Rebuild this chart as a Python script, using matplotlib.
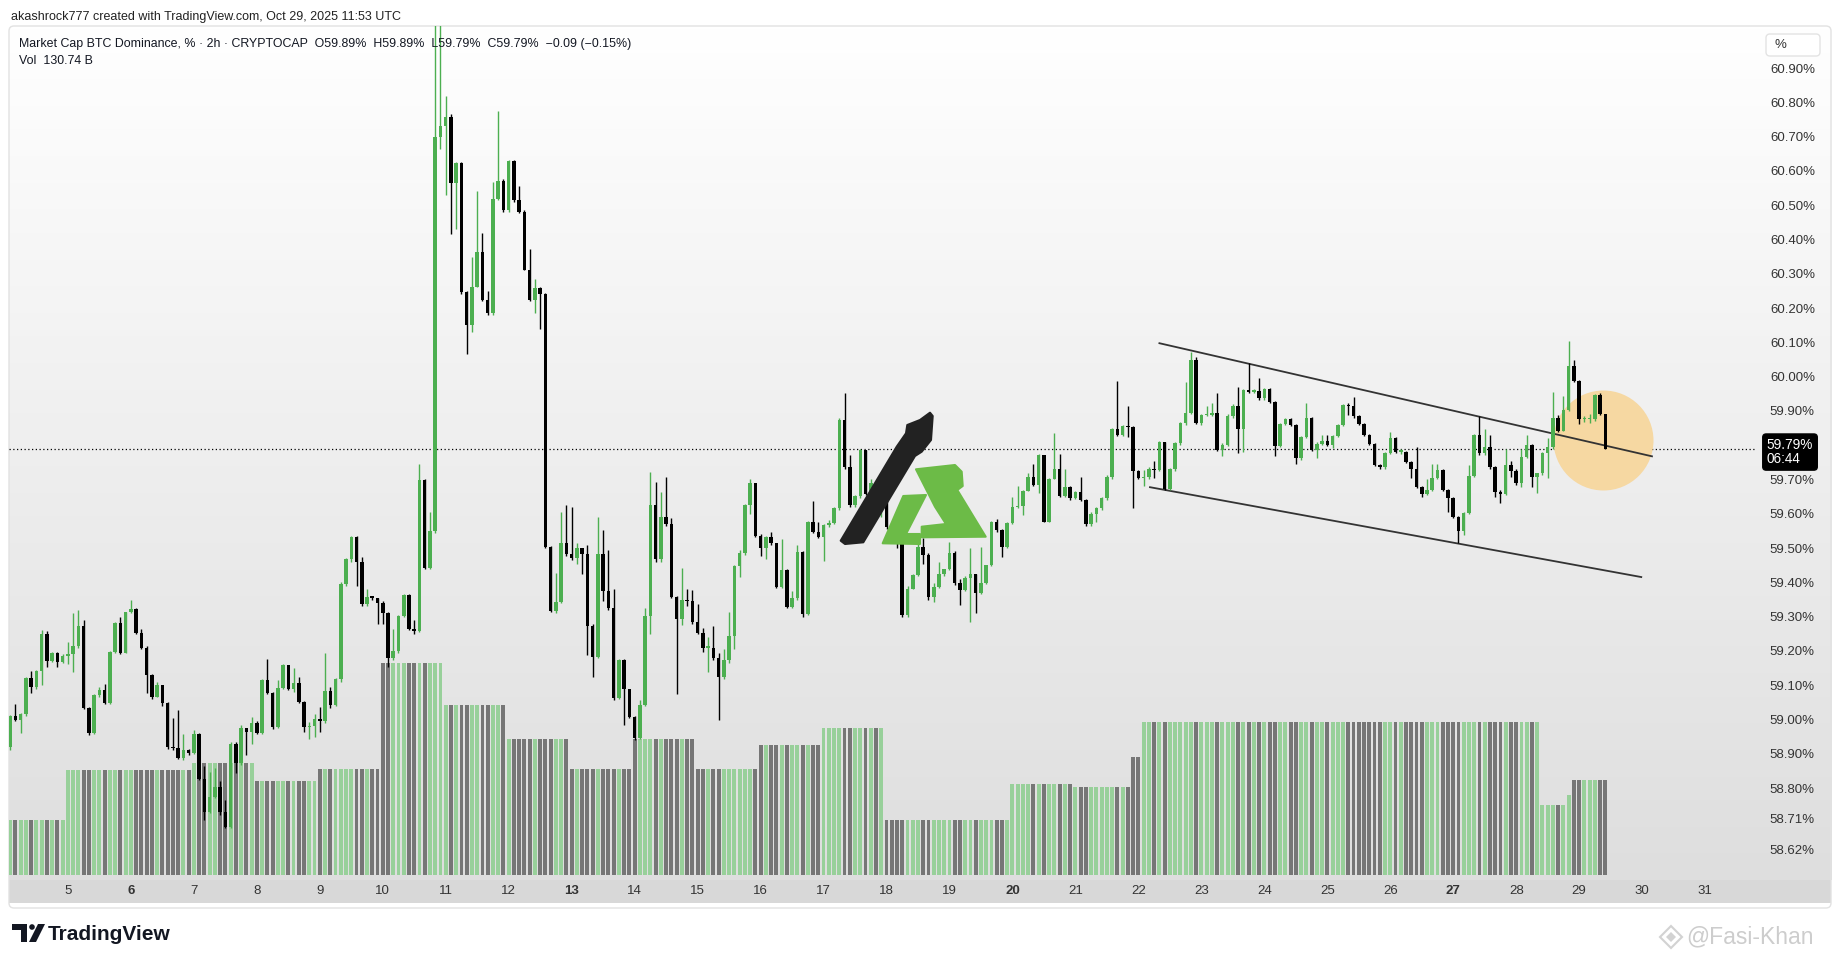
import numpy as np
import matplotlib
matplotlib.use('Agg')
import matplotlib.pyplot as plt
from matplotlib.colors import LinearSegmentedColormap
from matplotlib.patches import FancyBboxPatch, Polygon, Rectangle, Circle
import matplotlib.transforms as mtransforms

plt.rcParams['font.family'] = ['Liberation Sans', 'DejaVu Sans']

W, H = 1835, 964

# 2h candles, Market Cap BTC Dominance (%), first bar Oct 4 02:00
first_day = 4 + 2 / 24.
first_open = 58.92
close = [
    59.010, 59.000, 59.016, 59.120, 59.094, 59.141, 59.249, 59.171, 59.193, 59.169, 59.185,
    59.191, 59.214, 59.273, 59.035, 58.960, 59.071, 59.086, 59.049, 59.198, 59.282, 59.195, 59.313,
    59.323, 59.253, 59.210, 59.130, 59.066, 59.100, 59.047, 58.920, 58.916, 58.889, 58.911, 58.901,
    58.958, 58.828, 58.731, 58.775, 58.802, 58.731, 58.687, 58.930, 58.872, 58.974, 58.964, 58.991,
    58.961, 59.115, 59.078, 58.977, 59.091, 59.158, 59.088, 59.107, 59.052, 58.977, 58.981, 59.002,
    58.996, 59.083, 59.041, 59.118, 59.395, 59.467, 59.532, 59.460, 59.336, 59.356, 59.355, 59.340,
    59.310, 59.180, 59.200, 59.301, 59.362, 59.264, 59.258, 59.698, 59.441, 59.549, 60.700, 60.730,
    60.757, 60.564, 60.622, 60.246, 60.150, 60.260, 60.364, 60.224, 60.185, 60.518, 60.570, 60.485,
    60.629, 60.515, 60.481, 60.312, 60.224, 60.259, 60.241, 59.502, 59.317, 59.343, 59.515, 59.483,
    59.470, 59.499, 59.482, 59.274, 59.183, 59.482, 59.376, 59.324, 59.062, 59.173, 59.088, 59.008,
    58.945, 59.042, 59.302, 59.625, 59.467, 59.591, 59.569, 59.358, 59.293, 59.348, 59.346, 59.285,
    59.253, 59.209, 59.210, 59.180, 59.125, 59.175, 59.243, 59.448, 59.486, 59.625, 59.689, 59.536,
    59.501, 59.531, 59.514, 59.387, 59.436, 59.329, 59.353, 59.488, 59.308, 59.576, 59.548, 59.533,
    59.566, 59.574, 59.616, 59.873, 59.737, 59.625, 59.652, 59.786, 59.659, 59.689, 59.620, 59.630,
    59.562, 59.550, 59.515, 59.304, 59.382, 59.421, 59.504, 59.480, 59.356, 59.387, 59.424, 59.438,
    59.486, 59.397, 59.377, 59.414, 59.424, 59.370, 59.397, 59.450, 59.577, 59.552, 59.502, 59.572,
    59.620, 59.622, 59.667, 59.708, 59.684, 59.771, 59.577, 59.700, 59.732, 59.652, 59.679, 59.645,
    59.663, 59.640, 59.570, 59.600, 59.616, 59.645, 59.708, 59.846, 59.830, 59.856, 59.852, 59.726,
    59.704, 59.706, 59.730, 59.728, 59.808, 59.672, 59.730, 59.806, 59.864, 59.895, 60.049, 59.866,
    59.888, 59.888, 59.893, 59.786, 59.801, 59.885, 59.915, 59.846, 59.961, 59.956, 59.959, 59.937,
    59.963, 59.927, 59.798, 59.862, 59.876, 59.859, 59.762, 59.823, 59.880, 59.786, 59.804, 59.812,
    59.801, 59.827, 59.859, 59.917, 59.913, 59.885, 59.862, 59.830, 59.804, 59.742, 59.735, 59.778,
    59.820, 59.781, 59.781, 59.752, 59.730, 59.679, 59.658, 59.669, 59.703, 59.728, 59.669, 59.645,
    59.591, 59.551, 59.603, 59.710, 59.830, 59.776, 59.796, 59.735, 59.664, 59.658, 59.742, 59.726,
    59.689, 59.766, 59.800, 59.706, 59.718, 59.776, 59.796, 59.878, 59.842, 59.902, 60.031, 59.988,
    59.875, 59.875, 59.876, 59.946, 59.891, 59.790,
]
high = [
    59.013, 59.045, 59.020, 59.125, 59.141, 59.145, 59.261, 59.259, 59.197, 59.196, 59.190,
    59.227, 59.310, 59.319, 59.290, 59.037, 59.075, 59.096, 59.105, 59.200, 59.285, 59.298, 59.315,
    59.350, 59.326, 59.263, 59.213, 59.133, 59.110, 59.102, 59.050, 59.003, 59.028, 58.958, 58.915,
    58.970, 58.960, 58.864, 58.848, 58.860, 58.822, 58.765, 58.933, 58.935, 58.984, 58.976, 59.006,
    58.995, 59.118, 59.176, 59.080, 59.115, 59.162, 59.160, 59.149, 59.125, 59.055, 58.994, 59.016,
    59.037, 59.193, 59.096, 59.120, 59.400, 59.470, 59.535, 59.535, 59.475, 59.380, 59.360, 59.355,
    59.345, 59.315, 59.265, 59.305, 59.365, 59.365, 59.290, 59.745, 59.700, 59.604, 61.100, 61.100,
    60.818, 60.765, 60.625, 60.625, 60.250, 60.350, 60.540, 60.420, 60.250, 60.567, 60.775, 60.575,
    60.632, 60.632, 60.555, 60.485, 60.372, 60.285, 60.262, 60.245, 59.505, 59.428, 59.604, 59.625,
    59.620, 59.515, 59.500, 59.510, 59.280, 59.590, 59.553, 59.494, 59.380, 59.176, 59.176, 59.090,
    59.010, 59.057, 59.324, 59.722, 59.693, 59.664, 59.708, 59.587, 59.360, 59.441, 59.380, 59.378,
    59.336, 59.266, 59.240, 59.272, 59.195, 59.205, 59.314, 59.452, 59.494, 59.628, 59.700, 59.690,
    59.540, 59.535, 59.546, 59.516, 59.526, 59.438, 59.375, 59.510, 59.490, 59.580, 59.637, 59.576,
    59.570, 59.582, 59.620, 59.880, 59.951, 59.770, 59.655, 59.790, 59.786, 59.700, 59.690, 59.635,
    59.640, 59.570, 59.555, 59.515, 59.390, 59.425, 59.520, 59.528, 59.485, 59.397, 59.460, 59.440,
    59.518, 59.490, 59.410, 59.418, 59.500, 59.425, 59.503, 59.452, 59.580, 59.584, 59.555, 59.575,
    59.650, 59.680, 59.670, 59.718, 59.744, 59.775, 59.770, 59.705, 59.836, 59.774, 59.731, 59.682,
    59.667, 59.708, 59.642, 59.605, 59.620, 59.650, 59.712, 59.850, 59.988, 59.860, 59.913, 59.855,
    59.728, 59.728, 59.735, 59.755, 59.812, 59.810, 59.734, 59.810, 59.868, 59.985, 60.073, 60.058,
    59.892, 59.914, 59.922, 59.951, 59.805, 59.890, 59.920, 59.971, 59.965, 60.039, 59.963, 59.995,
    59.966, 59.966, 59.930, 59.866, 59.880, 59.880, 59.862, 59.826, 59.924, 59.883, 59.808, 59.830,
    59.830, 59.830, 59.862, 59.920, 59.924, 59.940, 59.888, 59.865, 59.833, 59.806, 59.745, 59.780,
    59.839, 59.825, 59.788, 59.784, 59.755, 59.796, 59.682, 59.700, 59.745, 59.745, 59.730, 59.672,
    59.648, 59.594, 59.606, 59.742, 59.833, 59.885, 59.846, 59.830, 59.738, 59.668, 59.788, 59.755,
    59.730, 59.788, 59.830, 59.803, 59.720, 59.780, 59.820, 59.956, 59.889, 59.943, 60.105, 60.048,
    59.990, 59.885, 59.890, 59.950, 59.953, 59.890,
]
low = [
    58.910, 58.995, 58.960, 59.010, 59.076, 59.090, 59.100, 59.152, 59.168, 59.154, 59.165,
    59.162, 59.139, 59.210, 59.030, 58.955, 58.958, 59.066, 59.045, 59.046, 59.195, 59.190, 59.193,
    59.310, 59.250, 59.205, 59.078, 59.060, 59.065, 59.040, 58.915, 58.912, 58.886, 58.882, 58.896,
    58.898, 58.825, 58.707, 58.726, 58.770, 58.721, 58.683, 58.685, 58.843, 58.868, 58.896, 58.930,
    58.958, 58.958, 59.075, 58.972, 58.975, 59.088, 59.085, 59.081, 59.048, 58.964, 58.942, 58.950,
    58.964, 58.989, 59.035, 59.040, 59.110, 59.390, 59.460, 59.390, 59.330, 59.330, 59.350, 59.280,
    59.280, 59.154, 59.175, 59.195, 59.300, 59.260, 59.250, 59.255, 59.438, 59.440, 59.545, 60.665,
    60.530, 60.416, 60.430, 60.240, 60.065, 60.130, 60.260, 60.220, 60.180, 60.180, 60.515, 60.480,
    60.480, 60.510, 60.478, 60.310, 60.220, 60.185, 60.140, 59.500, 59.315, 59.310, 59.340, 59.478,
    59.465, 59.453, 59.423, 59.188, 59.125, 59.180, 59.347, 59.320, 59.058, 59.060, 58.984, 59.005,
    58.940, 58.942, 59.038, 59.250, 59.460, 59.460, 59.565, 59.355, 59.074, 59.276, 59.330, 59.280,
    59.250, 59.198, 59.140, 59.175, 58.998, 59.117, 59.165, 59.205, 59.415, 59.480, 59.600, 59.532,
    59.477, 59.468, 59.510, 59.383, 59.384, 59.325, 59.326, 59.350, 59.300, 59.305, 59.545, 59.530,
    59.463, 59.560, 59.570, 59.610, 59.730, 59.620, 59.620, 59.645, 59.655, 59.655, 59.610, 59.590,
    59.555, 59.530, 59.500, 59.300, 59.300, 59.380, 59.420, 59.455, 59.350, 59.343, 59.385, 59.420,
    59.435, 59.393, 59.334, 59.375, 59.285, 59.310, 59.365, 59.395, 59.448, 59.548, 59.475, 59.500,
    59.570, 59.618, 59.595, 59.665, 59.680, 59.660, 59.575, 59.575, 59.700, 59.648, 59.650, 59.640,
    59.642, 59.638, 59.565, 59.565, 59.575, 59.612, 59.640, 59.700, 59.826, 59.826, 59.825, 59.616,
    59.700, 59.680, 59.700, 59.704, 59.724, 59.668, 59.668, 59.726, 59.800, 59.860, 59.890, 59.862,
    59.860, 59.884, 59.885, 59.782, 59.769, 59.797, 59.880, 59.778, 59.781, 59.952, 59.952, 59.933,
    59.933, 59.923, 59.769, 59.795, 59.858, 59.855, 59.745, 59.758, 59.820, 59.782, 59.762, 59.800,
    59.797, 59.791, 59.824, 59.855, 59.888, 59.880, 59.858, 59.826, 59.800, 59.738, 59.730, 59.730,
    59.775, 59.777, 59.774, 59.748, 59.703, 59.675, 59.648, 59.655, 59.665, 59.700, 59.665, 59.606,
    59.588, 59.514, 59.538, 59.600, 59.706, 59.772, 59.772, 59.730, 59.650, 59.630, 59.655, 59.706,
    59.685, 59.679, 59.762, 59.679, 59.660, 59.714, 59.703, 59.790, 59.838, 59.840, 59.900, 59.984,
    59.862, 59.868, 59.865, 59.872, 59.888, 59.790,
]

# volume (billions) - the feed repeats one value over runs of bars
vol_levels = [75.7, 144.5, 154.1, 129.3, 145.9, 291.7, 233.9, 187.1, 145.9, 187.1, 145.9,
              178.9, 202.3, 75.7, 125.2, 121.1, 162.4, 210.5, 96.3, 110.0, 130.74]
vol_counts = [11, 24, 12, 12, 12, 12, 12, 12, 12, 12, 12,
              12, 12, 24, 12, 11, 2, 76, 5, 1, 7]

price_ticks = [60.90, 60.80, 60.70, 60.60, 60.50, 60.40, 60.30, 60.20, 60.10, 60.00,
               59.90, 59.70, 59.60, 59.50, 59.40, 59.30, 59.20, 59.10, 59.00,
               58.90, 58.80, 58.71, 58.62]
day_ticks = list(range(5, 32))
bold_days = [6, 13, 20, 27]

last_price = 59.79
countdown = '06:44'

# falling channel + highlight circle drawn by the author (day, %)
upper_x = [22.32, 30.17]
upper_y = [60.098, 59.767]
lower_x = [22.17, 30.00]
lower_y = [59.678, 59.415]
circle_x, circle_y = 29.386, 59.815

header = ('Market Cap BTC Dominance, % \u00b7 2h \u00b7 CRYPTOCAP  O59.89%  H59.89%  '
          'L59.79%  C59.79%  \u22120.09 (\u22120.15%)')

GREEN = '#4caf50'
BLACK = '#000000'
VGREEN = '#98d09a'
VGRAY = '#767676'

n = len(close)
assert len(high) == n and len(low) == n and sum(vol_counts) == n
t = first_day + np.arange(n) / 12.
c = np.array(close)
o = np.concatenate([[first_open], c[:-1]])
hi = np.maximum(np.array(high), np.maximum(o, c))
lo = np.minimum(np.array(low), np.minimum(o, c))
up = c >= o
vol = np.repeat(vol_levels, vol_counts)

fig = plt.figure(figsize=(W / 100, H / 100), dpi=100)

# background panel (pixel coords)
bg = fig.add_axes([0, 0, 1, 1])
bg.set_xlim(0, W)
bg.set_ylim(H, 0)
bg.axis('off')
cmap = LinearSegmentedColormap.from_list('bg', ['#ffffff', '#dedede'])
bg.imshow(np.linspace(0, 1, 256).reshape(-1, 1), cmap=cmap, aspect='auto',
          extent=[9, 1831, 880, 26])
bg.add_patch(Rectangle((9, 880), 1822, 23, fc='#d8d8d8', ec='none'))
bg.add_patch(FancyBboxPatch((9, 26), 1822, 882, boxstyle='round,pad=0,rounding_size=5',
                            fc='none', ec='#e2e2e2', lw=1))

rect = [9 / W, (H - 880) / H, 1747 / W, 854 / H]
xl = (4.0646, 31.808)

# volume
vax = fig.add_axes(rect)
vax.set_axis_off()
vax.set_xlim(xl)
vax.set_ylim(-6.9, 1168)
vax.bar(t, vol, width=0.062, color=np.where(up, VGREEN, VGRAY), linewidth=0)

# price
ax = fig.add_axes(rect)
ax.patch.set_visible(False)
ax.set_xlim(xl)
ax.set_ylim(58.532, 61.0225)

ax.axhline(last_price, color='black', lw=0.9, ls=(0, (1, 2)), zorder=0.5)
ax.scatter([circle_x], [circle_y], s=72 ** 2, color='#f6d8a2', linewidths=0, zorder=1)
ax.plot(upper_x, upper_y, color='#333333', lw=1.3, zorder=2, solid_capstyle='butt')
ax.plot(lower_x, lower_y, color='#333333', lw=1.3, zorder=2, solid_capstyle='butt')

cols = np.where(up, GREEN, BLACK)
ax.vlines(t, lo, hi, colors=cols, lw=1.0, zorder=3)
body = np.maximum(np.abs(c - o), 0.004)
ax.bar(t, body, bottom=np.minimum(o, c), width=0.056, color=cols, linewidth=0, zorder=4)

for s in ax.spines.values():
    s.set_visible(False)
ax.yaxis.tick_right()
ax.set_yticks(price_ticks)
ax.set_yticklabels(['%.2f%%' % v for v in price_ticks])
ax.tick_params(axis='y', length=0, pad=10, labelsize=9.5, labelcolor='#333333')
ax.set_xticks(day_ticks)
ax.set_xticklabels([str(d) for d in day_ticks])
ax.tick_params(axis='x', length=0, pad=3.5, labelsize=9.5, labelcolor='#333333')
for lab in ax.get_xticklabels():
    if int(lab.get_text()) in bold_days:
        lab.set_fontweight('bold')

# last price tag
tr = mtransforms.blended_transform_factory(ax.transAxes, ax.transData)
ax.text(1.0062, last_price - 0.01, '%.2f%%\n%s' % (last_price, countdown), transform=tr,
        ha='left', va='center', color='white', fontsize=9.8, linespacing=1.0,
        clip_on=False, zorder=10,
        bbox=dict(boxstyle='round,pad=0.3,rounding_size=0.25', fc='black', ec='black'))

# overlay: texts and logos (pixel coords)
ov = fig.add_axes([0, 0, 1, 1])
ov.set_xlim(0, W)
ov.set_ylim(H, 0)
ov.axis('off')
ov.patch.set_visible(False)

ov.text(10.5, 17, 'akashrock777 created with TradingView.com, Oct 29, 2025 11:53 UTC',
        fontsize=9, color='#222222', va='center', ha='left')
ov.text(18.5, 44.5, header, fontsize=8.9, color='#131722', va='center', ha='left')
ov.text(18.5, 61.5, 'Vol  130.74 B', fontsize=8.9, color='#131722', va='center', ha='left')

ov.add_patch(FancyBboxPatch((1766, 34), 54, 22, boxstyle='round,pad=0,rounding_size=4',
                            fc='white', ec='#e3e3e3', lw=1))
ov.text(1774, 45.5, '%', fontsize=9.5, color='#333333', va='center', ha='left')

# arrow + green mark in the middle of the chart
arrow = [(840.7, 540.7), (896.7, 446.7), (906, 433.3), (907.3, 425), (920, 420), (930, 412.7),
         (932.7, 416), (931, 440), (921.7, 451.7), (915, 456), (863.3, 542.3), (845, 544)]
mark_r = [(916, 469.3), (955, 465), (961.7, 471.7), (962.7, 486), (957.3, 490), (985.7, 536.7),
          (921.7, 537.3), (921.7, 526.7), (946, 524), (935, 506.7)]
mark_l = [(882.7, 543.3), (903.3, 496), (926, 495), (906, 534), (920, 534), (920, 544)]
ov.add_patch(Polygon(arrow, closed=True, fc='#222222', ec='#222222', lw=1.5, joinstyle='round'))
ov.add_patch(Polygon(mark_r, closed=True, fc='#6cbb47', ec='#6cbb47', lw=1.5, joinstyle='round'))
ov.add_patch(Polygon(mark_l, closed=True, fc='#6cbb47', ec='#6cbb47', lw=1.5, joinstyle='round'))

# TradingView wordmark
ov.add_patch(Rectangle((12, 924), 15, 5.5, fc='#131722', ec='none'))
ov.add_patch(Rectangle((20.5, 924), 6.5, 18, fc='#131722', ec='none'))
ov.add_patch(Circle((32, 927), 2.8, fc='#131722', ec='none'))
ov.add_patch(Polygon([(29, 942), (38, 924), (45, 924), (36, 942)], closed=True,
                     fc='#131722', ec='none'))
ov.text(48, 934, 'TradingView', fontsize=15, fontweight='bold', color='#131722',
        va='center', ha='left')

# watermark
ov.add_patch(Polygon([(1671, 926), (1682, 937), (1671, 948), (1660, 937)], closed=True,
                     fc='none', ec='#d2d2d2', lw=1.5))
ov.add_patch(Polygon([(1671, 932), (1676, 937), (1671, 942), (1666, 937)], closed=True,
                     fc='#d2d2d2', ec='none'))
ov.text(1686, 937, '@Fasi-Khan', fontsize=16.5, color='#cdcdcd', va='center', ha='left')

fig.savefig('out.png', dpi=100)
